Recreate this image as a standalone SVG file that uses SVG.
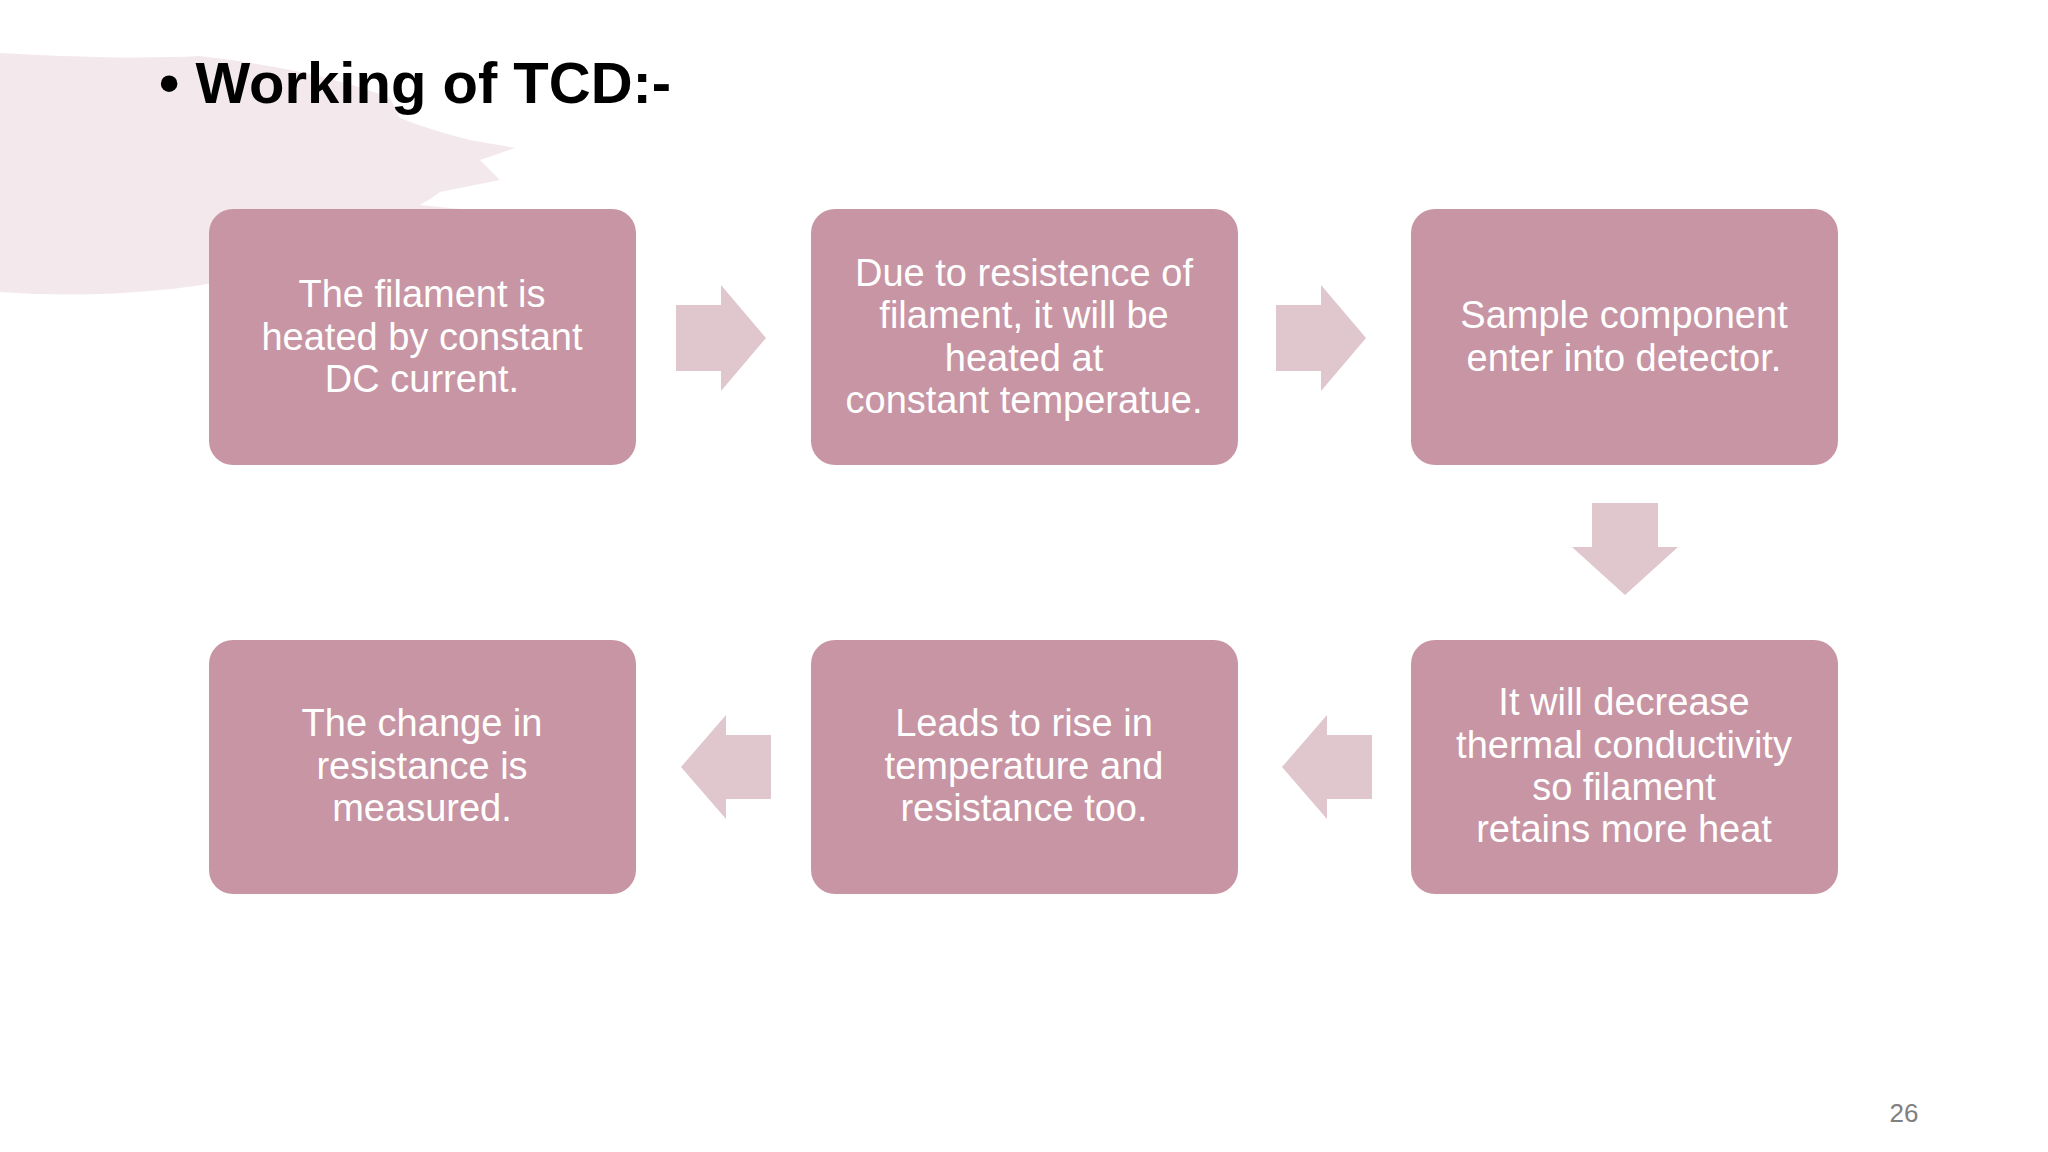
<svg xmlns="http://www.w3.org/2000/svg" width="2048" height="1152" viewBox="0 0 2048 1152">
<style>
.box{fill:#C795A3}
.arr{fill:#E0C6CD}
.t{font-family:"Liberation Sans",Arial,sans-serif;font-size:38px;fill:#ffffff;text-anchor:middle}
</style>
<rect width="2048" height="1152" fill="#ffffff"/>
<path d="M0 53 Q120 60 200 56 Q320 70 390 98 L400 118 Q430 130 470 140 L515 148 L480 160 L500 180 L440 192 Q430 200 420 205 L470 210 L430 222 L380 228 Q330 240 300 250 L260 270 Q220 285 160 290 Q80 298 0 292 Z" fill="#F3E9EC"/>
<text x="159" y="103" font-family="Liberation Sans,Arial,sans-serif" font-size="58" font-weight="bold" fill="#000">• Working of TCD:-</text>
<g id="n1"><rect class="box" x="209" y="209" width="427" height="256" rx="24"/>
<text class="t" x="422" y="307">The filament is</text><text class="t" x="422" y="350">heated by constant</text><text class="t" x="422" y="392">DC current.</text></g>
<g id="n2"><rect class="box" x="811" y="209" width="427" height="256" rx="24"/>
<text class="t" x="1024" y="286">Due to resistence of</text><text class="t" x="1024" y="328">filament, it will be</text><text class="t" x="1024" y="371">heated at</text><text class="t" x="1024" y="413">constant temperatue.</text></g>
<g id="n3"><rect class="box" x="1411" y="209" width="427" height="256" rx="24"/>
<text class="t" x="1624" y="328">Sample component</text><text class="t" x="1624" y="371">enter into detector.</text></g>
<g id="n4"><rect class="box" x="1411" y="640" width="427" height="254" rx="24"/>
<text class="t" x="1624" y="715">It will decrease</text><text class="t" x="1624" y="758">thermal conductivity</text><text class="t" x="1624" y="800">so filament</text><text class="t" x="1624" y="842">retains more heat</text></g>
<g id="n5"><rect class="box" x="811" y="640" width="427" height="254" rx="24"/>
<text class="t" x="1024" y="736">Leads to rise in</text><text class="t" x="1024" y="779">temperature and</text><text class="t" x="1024" y="821">resistance too.</text></g>
<g id="n6"><rect class="box" x="209" y="640" width="427" height="254" rx="24"/>
<text class="t" x="422" y="736">The change in</text><text class="t" x="422" y="779">resistance is</text><text class="t" x="422" y="821">measured.</text></g>
<g id="connectors">
<polygon class="arr" points="676,305 721,305 721,285 766,338 721,391 721,371 676,371"/>
<polygon class="arr" points="1276,305 1321,305 1321,285 1366,338 1321,391 1321,371 1276,371"/>
<polygon class="arr" points="1592,503 1658,503 1658,547 1678,547 1625,595 1572,547 1592,547"/>
<polygon class="arr" points="1372,735 1327,735 1327,715 1282,767 1327,819 1327,799 1372,799"/>
<polygon class="arr" points="771,735 726,735 726,715 681,767 726,819 726,799 771,799"/>
</g>
<text x="1904" y="1122" font-family="Liberation Sans,Arial,sans-serif" font-size="26" fill="#808080" text-anchor="middle">26</text>
</svg>
